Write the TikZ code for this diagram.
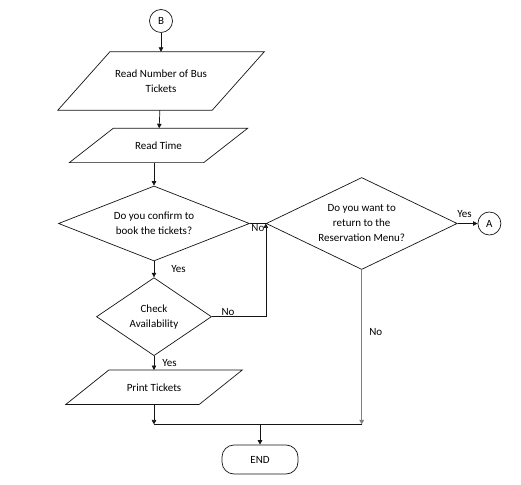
\documentclass[tikz,border=0pt]{standalone}
\usepackage{fontspec}
\setmainfont{Carlito}
\usetikzlibrary{arrows.meta,positioning,shapes.geometric}
\definecolor{edge}{RGB}{20,20,20}
\definecolor{soft}{RGB}{128,128,128}

\begin{document}
\begin{tikzpicture}[
  x=1pt, y=1pt,
  node distance=18pt and 16pt,
  every node/.style={font=\fontsize{11}{15}\selectfont, align=center},
  conn/.style={draw=edge, circle, minimum size=23pt, inner sep=0pt, line width=0.7pt},
  io/.style={rectangle, inner sep=0pt},
  slant/.style={draw=edge, line width=0.7pt},
  decision/.style={draw=edge, diamond, inner sep=0pt, line width=0.7pt},
  term/.style={draw=edge, rounded corners=12pt, minimum width=76pt,
    minimum height=29pt, line width=0.7pt},
  lbl/.style={inner sep=1pt},
  arrow/.style={-{Triangle[length=4.5pt,width=4.5pt]}, draw=edge, line width=0.7pt}
]
\useasboundingbox (0,0) rectangle (521,484);

\node[conn] (b) at (161,463) {B};
\node[io, below=19pt of b, minimum width=206pt, minimum height=58pt] (rnum) {Read Number of Bus\\Tickets};
\node[io, below=18pt of rnum, xshift=-2.5pt, minimum width=178pt, minimum height=34pt] (rtime) {Read Time};
\node[decision, below=23pt of rtime, xshift=-4.5pt, aspect=2.55, minimum width=191pt,
  minimum height=75pt] (confirm) {Do you confirm to\\book the tickets?};
\node[decision, right=16pt of confirm, aspect=2.08, minimum width=191pt,
  minimum height=92pt] (again) {Do you want to\\return to the\\Reservation Menu?};
\node[conn, right=20pt of again] (a) {A};
\node[decision, below=16pt of confirm, aspect=1.47, minimum width=115pt,
  minimum height=78pt] (avail) {Check\\Availability};
\node[io, below=14pt of avail, minimum width=176pt, minimum height=34pt] (print) {Print Tickets};
\node[term] (end) at (260,24.5) {END};

\draw[slant] ([xshift=52pt]rnum.north west) -- (rnum.north east)
  -- ([xshift=-52pt]rnum.south east) -- (rnum.south west) -- cycle;
\draw[slant] ([xshift=44pt]rtime.north west) -- (rtime.north east)
  -- ([xshift=-44pt]rtime.south east) -- (rtime.south west) -- cycle;
\draw[slant] ([xshift=43pt]print.north west) -- (print.north east)
  -- ([xshift=-43pt]print.south east) -- (print.south west) -- cycle;

\coordinate[below=20pt of print] (jl);
\coordinate (jr) at (again |- jl);

\draw[arrow] (b) -- (rnum);
\draw[arrow] (rnum) -- (rtime);
\draw[arrow] (rtime.south -| confirm) -- (confirm);
\draw[arrow] (confirm) -- node[lbl, right, xshift=16pt] {Yes} (avail);
\draw[arrow] (avail) -- node[lbl, right, xshift=7pt] {Yes} (print);
\draw[edge, line width=0.7pt] (confirm.east) -- node[lbl, below, pos=0.5] {No} (again.west);
\draw[arrow] (avail.east) -- node[lbl, above, pos=0.3] {No} (avail.east -| again.west) -- (again.west);
\draw[arrow] (again) -- node[lbl, above, yshift=5pt, xshift=-3pt] {Yes} (a);
\draw[arrow] (print) -- (jl);
\draw[arrow, draw=soft, line width=1.2pt] (again) -- node[lbl, right, pos=0.4, xshift=6pt] {No} (jr);
\draw[edge, line width=0.7pt] (jl) -- (jr);
\draw[arrow] (end |- jl) -- (end);
\end{tikzpicture}
\end{document}
